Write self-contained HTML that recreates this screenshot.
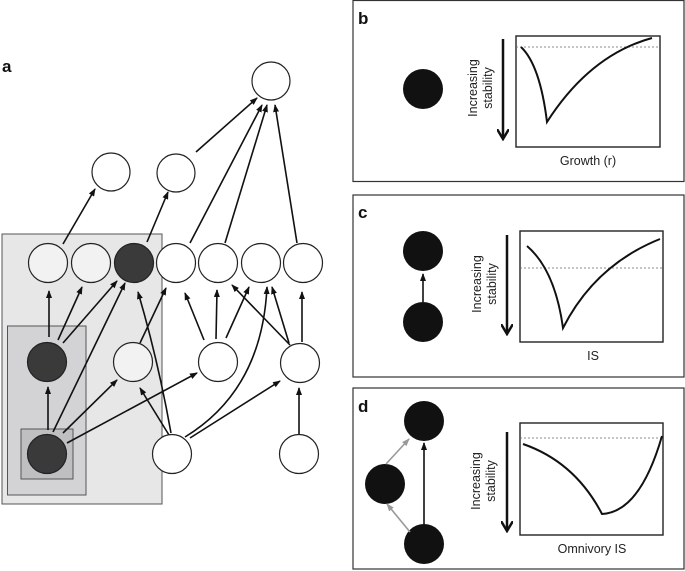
<!DOCTYPE html>
<html><head><meta charset="utf-8"><style>
html,body{margin:0;padding:0;background:#fff;}
svg{display:block;font-family:"Liberation Sans",Arial,sans-serif;}
</style></head><body>
<svg width="685" height="571" viewBox="0 0 685 571" xmlns="http://www.w3.org/2000/svg">
<defs>
<marker id="ah" markerWidth="8" markerHeight="8" refX="7" refY="4" orient="auto" markerUnits="userSpaceOnUse">
<path d="M0,1 L8,4 L0,7 Z" fill="#111"/></marker>
<marker id="ahg" markerWidth="8" markerHeight="8" refX="7" refY="4" orient="auto" markerUnits="userSpaceOnUse">
<path d="M0,1 L8,4 L0,7 Z" fill="#999"/></marker>
<marker id="ahb" markerWidth="12" markerHeight="12" refX="10" refY="6" orient="auto" markerUnits="userSpaceOnUse">
<path d="M0,0 L10,6 L0,12" fill="none" stroke="#111" stroke-width="2.5"/></marker>
</defs>

<!-- Panel a -->
<text x="2" y="72" font-size="17" font-weight="bold" fill="#111">a</text>
<rect x="2" y="234" width="160" height="270" fill="#e7e7e8" stroke="#555" stroke-width="1"/>
<rect x="7.5" y="326" width="78.5" height="169" fill="#d3d3d5" stroke="#555" stroke-width="1"/>
<rect x="21" y="429" width="52" height="50" fill="#bfbfc1" stroke="#555" stroke-width="1"/>

<g stroke="#111" stroke-width="1.6" fill="none" marker-end="url(#ah)">
<line x1="196" y1="152" x2="257" y2="98"/>
<line x1="190" y1="243" x2="262" y2="105"/>
<line x1="225" y1="243" x2="267" y2="105"/>
<line x1="297" y1="243" x2="275" y2="105"/>
<line x1="63" y1="244" x2="95" y2="189"/>
<line x1="147" y1="242" x2="168" y2="192"/>
<line x1="49" y1="337" x2="49" y2="291"/>
<line x1="58" y1="340" x2="82" y2="287"/>
<line x1="63" y1="343" x2="117" y2="281"/>
<line x1="48" y1="430" x2="48" y2="387"/>
<line x1="53" y1="432" x2="125" y2="283"/>
<line x1="63" y1="433" x2="117" y2="380"/>
<line x1="67" y1="443" x2="197" y2="373"/>
<line x1="140" y1="343" x2="166" y2="288"/>
<path d="M171,433 Q158,360 138,292"/>
<line x1="169" y1="435" x2="140" y2="388"/>
<line x1="190" y1="438" x2="280" y2="381"/>
<path d="M185,437 Q262,390 267,287"/>
<line x1="204" y1="340" x2="185" y2="293"/>
<line x1="216" y1="339" x2="217" y2="290"/>
<line x1="226" y1="338" x2="249" y2="287"/>
<line x1="290" y1="345" x2="232" y2="285"/>
<line x1="289" y1="343" x2="272" y2="287"/>
<line x1="302" y1="342" x2="302" y2="292"/>
<line x1="299" y1="437" x2="299" y2="388"/>
</g>

<g stroke="#222" stroke-width="1.2" fill="#fff">
<circle cx="271" cy="81" r="19"/>
<circle cx="111" cy="172" r="19"/>
<circle cx="176" cy="173" r="19"/>
<circle cx="48" cy="263" r="19.5" fill="#f2f2f2"/>
<circle cx="91" cy="263" r="19.5" fill="#f2f2f2"/>
<circle cx="134" cy="263" r="19.5" fill="#3a3a3a"/>
<circle cx="176" cy="263" r="19.5"/>
<circle cx="218" cy="263" r="19.5"/>
<circle cx="261" cy="263" r="19.5"/>
<circle cx="303" cy="263" r="19.5"/>
<circle cx="47" cy="362" r="19.5" fill="#3a3a3a"/>
<circle cx="133" cy="362" r="19.5" fill="#f2f2f2"/>
<circle cx="218" cy="362" r="19.5"/>
<circle cx="300" cy="363" r="19.5"/>
<circle cx="47" cy="454" r="19.5" fill="#3a3a3a"/>
<circle cx="172" cy="454" r="19.5"/>
<circle cx="299" cy="454" r="19.5"/>
</g>

<!-- Panel b -->
<rect x="353" y="0.5" width="331" height="181" fill="#fff" stroke="#333" stroke-width="1.2"/>
<text x="358" y="24" font-size="17" font-weight="bold" fill="#111">b</text>
<ellipse cx="423" cy="89" rx="20" ry="20" fill="#111"/>
<line x1="503" y1="39" x2="503" y2="139" stroke="#111" stroke-width="2.5" marker-end="url(#ahb)"/>
<text transform="translate(477,88) rotate(-90)" font-size="12.5" text-anchor="middle" fill="#222">Increasing</text>
<text transform="translate(492,88) rotate(-90)" font-size="12.5" text-anchor="middle" fill="#222">stability</text>
<rect x="516" y="36" width="144" height="111" fill="#fff" stroke="#222" stroke-width="1.4"/>
<line x1="516" y1="47" x2="660" y2="47" stroke="#666" stroke-width="0.8" stroke-dasharray="2,2"/>
<path d="M521,47 Q540,65 547,122 Q590,55 652,38" fill="none" stroke="#111" stroke-width="2"/>
<text x="588" y="165" font-size="12.5" text-anchor="middle" fill="#222">Growth (r)</text>

<!-- Panel c -->
<rect x="353" y="195" width="331" height="182" fill="#fff" stroke="#333" stroke-width="1.2"/>
<text x="358" y="218" font-size="17" font-weight="bold" fill="#111">c</text>
<circle cx="423" cy="251" r="20" fill="#111"/>
<circle cx="423" cy="322" r="20" fill="#111"/>
<line x1="423" y1="302" x2="423" y2="274" stroke="#111" stroke-width="1.6" marker-end="url(#ah)"/>
<line x1="507" y1="235" x2="507" y2="334" stroke="#111" stroke-width="2.5" marker-end="url(#ahb)"/>
<text transform="translate(481,284) rotate(-90)" font-size="12.5" text-anchor="middle" fill="#222">Increasing</text>
<text transform="translate(496,284) rotate(-90)" font-size="12.5" text-anchor="middle" fill="#222">stability</text>
<rect x="520" y="231" width="143" height="111" fill="#fff" stroke="#222" stroke-width="1.4"/>
<line x1="520" y1="268" x2="663" y2="268" stroke="#666" stroke-width="0.8" stroke-dasharray="2,2"/>
<path d="M527,246 Q555,270 563,328 Q595,265 660,239" fill="none" stroke="#111" stroke-width="2"/>
<text x="593" y="360" font-size="12.5" text-anchor="middle" fill="#222">IS</text>

<!-- Panel d -->
<rect x="353" y="388" width="331" height="181" fill="#fff" stroke="#333" stroke-width="1.2"/>
<text x="358" y="412" font-size="17" font-weight="bold" fill="#111">d</text>
<circle cx="424" cy="421" r="20" fill="#111"/>
<circle cx="385" cy="484" r="20" fill="#111"/>
<circle cx="424" cy="544" r="20" fill="#111"/>
<line x1="424" y1="526" x2="424" y2="443" stroke="#111" stroke-width="1.6" marker-end="url(#ah)"/>
<line x1="386" y1="464" x2="409" y2="439" stroke="#999" stroke-width="1.6" marker-end="url(#ahg)"/>
<line x1="410" y1="532" x2="387" y2="504" stroke="#999" stroke-width="1.6" marker-end="url(#ahg)"/>
<line x1="507" y1="432" x2="507" y2="531" stroke="#111" stroke-width="2.5" marker-end="url(#ahb)"/>
<text transform="translate(480,481) rotate(-90)" font-size="12.5" text-anchor="middle" fill="#222">Increasing</text>
<text transform="translate(495,481) rotate(-90)" font-size="12.5" text-anchor="middle" fill="#222">stability</text>
<rect x="520" y="423" width="143" height="112" fill="#fff" stroke="#222" stroke-width="1.4"/>
<line x1="520" y1="438" x2="663" y2="438" stroke="#666" stroke-width="0.8" stroke-dasharray="2,2"/>
<path d="M523,444 Q575,462 602,514 Q640,512 662,436" fill="none" stroke="#111" stroke-width="2"/>
<text x="592" y="553" font-size="12.5" text-anchor="middle" fill="#222">Omnivory IS</text>
</svg>
</body></html>
